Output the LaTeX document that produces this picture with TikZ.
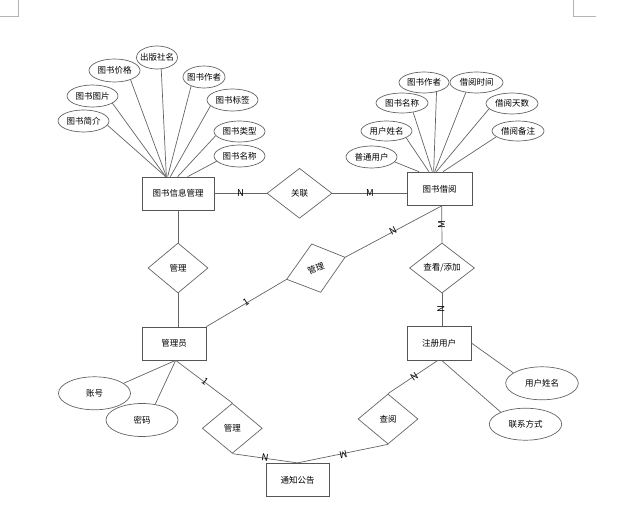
\documentclass[tikz,border=0pt]{standalone}
\usepackage{fontspec}
\setmainfont{Noto Sans CJK SC}
\usetikzlibrary{shapes.geometric}
\definecolor{lc}{RGB}{100,100,100}
\definecolor{bc}{RGB}{85,85,85}
\definecolor{mk}{RGB}{180,180,180}
\begin{document}
\begin{tikzpicture}[x=1pt,y=-1pt,
  every node/.style={font=\fontsize{8.5}{10}\selectfont, text=black},
  ent/.style={draw=bc, line width=0.7pt, rectangle, inner sep=0pt},
  attr/.style={draw=lc, line width=0.7pt, ellipse, inner ysep=0pt, inner xsep=-8pt},
  rel/.style={draw=lc, line width=0.7pt, diamond, inner sep=0pt},
  conn/.style={draw=lc, line width=0.7pt},
  card/.style={font=\fontsize{9.5}{10}\selectfont, inner sep=0pt},
]
\useasboundingbox (0,0) rectangle (626,516);
% page corner marks
\draw[mk, line width=0.6pt] (0,16) -- (18,16) -- (18,0);
\draw[mk, line width=0.6pt] (573,0) -- (573,16) -- (596,16);

% entities
\node[ent, minimum width=72pt, minimum height=33pt] (tx) at (178,193.5) {图书信息管理};
\node[ent, minimum width=65pt, minimum height=33.5pt] (jy) at (439.5,188.8) {图书借阅};
\node[ent, minimum width=64pt, minimum height=33pt] (gly) at (174,343.5) {管理员};
\node[ent, minimum width=64pt, minimum height=34pt] (zc) at (439,343) {注册用户};
\node[ent, minimum width=63pt, minimum height=33.5pt] (tz) at (297.5,480) {通知公告};

% attributes of 图书信息管理
\node[attr, minimum width=51pt, minimum height=22pt] (jj) at (83.5,121) {图书简介};
\node[attr, minimum width=51pt, minimum height=22pt] (tp) at (92.5,96) {图书图片};
\node[attr, minimum width=51pt, minimum height=23pt] (jg) at (114.5,70.5) {图书价格};
\node[attr, minimum width=41pt, minimum height=23pt] (cb) at (157,57.5) {出版社名};
\node[attr, minimum width=42pt, minimum height=22pt] (zz) at (204,77) {图书作者};
\node[attr, minimum width=51pt, minimum height=22pt] (bq) at (232.5,100) {图书标签};
\node[attr, minimum width=51pt, minimum height=21pt] (lx) at (239.5,131.5) {图书类型};
\node[attr, minimum width=51pt, minimum height=22pt] (mc) at (239.5,156) {图书名称};

% attributes of 图书借阅
\node[attr, minimum width=50pt, minimum height=21pt] (rzz) at (424,82.5) {图书作者};
\node[attr, minimum width=53pt, minimum height=21pt] (rsj) at (476.5,82.5) {借阅时间};
\node[attr, minimum width=52pt, minimum height=20pt] (rmc) at (402,103) {图书名称};
\node[attr, minimum width=52pt, minimum height=21pt] (rts) at (512,103.5) {借阅天数};
\node[attr, minimum width=51pt, minimum height=20pt] (rxm) at (386.5,131) {用户姓名};
\node[attr, minimum width=52pt, minimum height=20pt] (rbz) at (518,131) {借阅备注};
\node[attr, minimum width=51pt, minimum height=22pt] (rpt) at (371.5,157) {普通用户};

% bottom attributes
\node[attr, minimum width=72pt, minimum height=33pt] (zh) at (94.5,393.3) {账号};
\node[attr, minimum width=72pt, minimum height=33pt] (mm) at (142,420) {密码};
\node[attr, minimum width=72.6pt, minimum height=33pt] (bxm) at (542,383.3) {用户姓名};
\node[attr, minimum width=72.4pt, minimum height=32pt] (lxfs) at (525.5,424.2) {联系方式};

% relationships
\node[rel, minimum width=65pt, minimum height=50pt] (gl) at (299.5,193.3) {关联};
\node[rel, minimum width=60pt, minimum height=50pt] (gl1) at (178,268) {管理};
\node[rel, minimum width=65pt, minimum height=50pt] (ck) at (442,268) {查看/添加};
\node[rel, minimum width=60pt, minimum height=50pt] (gl3) at (232.3,428.3) {管理};
\node[rel, minimum width=60pt, minimum height=50pt] (cy) at (388,419) {查阅};
% rotated relationship 管理
\coordinate (mt) at (311.7,244);
\coordinate (mr) at (345,257.3);
\coordinate (mb) at (320.7,292.3);
\coordinate (ml) at (286.7,279.3);
\draw[conn] (mt) -- (mr) -- (mb) -- (ml) -- cycle;
\node[rotate=21, inner sep=0pt] (gl2) at (316,268.2) {管理};

% attribute connectors (图书信息管理)
\draw[conn] (jj.-10) -- ([xshift=24pt]tx.north west);
\draw[conn] (tp.-20) -- ([xshift=24pt]tx.north west);
\draw[conn] (jg.-30) -- ([xshift=24.7pt]tx.north west);
\draw[conn] (cb.-70) -- ([xshift=24.7pt]tx.north west);
\draw[conn] (zz.-145) -- ([xshift=26pt]tx.north west);
\draw[conn] (bq.-165) -- ([xshift=28.7pt]tx.north west);
\draw[conn] (lx.-170) -- ([xshift=36pt]tx.north west);
\draw[conn] (mc.-167) -- ([xshift=46pt]tx.north west);

% attribute connectors (图书借阅)
\draw[conn] (rpt.-12) -- ([xshift=12.3pt]jy.north west);
\draw[conn] (rxm.-19) -- ([xshift=22.3pt]jy.north west);
\draw[conn] (rmc.-40) -- ([xshift=25.7pt]jy.north west);
\draw[conn] (rzz.-37) -- ([xshift=27pt]jy.north west);
\draw[conn] (rsj.-137) -- ([xshift=28pt]jy.north west);
\draw[conn] (rts.-167) -- ([xshift=29.7pt]jy.north west);
\draw[conn] (rbz.-165) -- ([xshift=36.3pt]jy.north west);

% 关联
\draw[conn] (gl.west -| tx.east) -- (gl.west);
\draw[conn] (gl.east) -- (gl.east -| jy.west);
\node[card] (c1) at (240.5,193.3) {N};
\node[card] (c2) at (370,193.3) {M};

% 管理 (left)
\draw[conn] (tx.south) -- (gl1.north);
\draw[conn] (gl1.south) -- (gl1.south |- gly.north);

% 管理 (middle)
\coordinate (jyb) at ([xshift=35pt]jy.south west);
\draw[conn] (gly.north east) -- (ml);
\draw[conn] (mr) -- (jyb);
\node[card, rotate=31] (c3) at (246,302) {1};
\node[card, rotate=28] (c4) at (393,231) {N};

% 查看/添加
\draw[conn] (jyb) -- (ck.north);
\draw[conn] (ck.south) -- (ck.south |- zc.north);
\node[card, rotate=90] (c5) at (441.7,225) {M};
\node[card, rotate=90] (c6) at (440.9,309.3) {N};

% 管理员 attributes and 管理 (bottom)
\coordinate (glyb) at ([xshift=34pt]gly.south west);
\draw[conn] (zh.19) -- (glyb);
\draw[conn] (mm.50) -- (glyb);
\draw[conn] (glyb) -- (gl3.north);
\node[card, rotate=-37.6] (c7) at (205,381.7) {1};
\draw[conn] (gl3.south) -- (tz.north);
\node[card, rotate=-8.8] (c8) at (265,457.5) {N};

% 查阅
\draw[conn] (tz.north) -- (cy.south);
\node[card, rotate=192.2] (c9) at (343.3,454.3) {M};
\coordinate (zcb1) at ([xshift=31.3pt]zc.south west);
\draw[conn] (zcb1) -- (cy.north);
\node[card, rotate=34.2] (c10) at (414.3,376.7) {N};

% 注册用户 attributes
\coordinate (zcb2) at ([xshift=35pt]zc.south west);
\draw[conn] (zcb2) -- (lxfs.154);
\draw[conn] (zc.east) -- (bxm.160);
\end{tikzpicture}
\end{document}
